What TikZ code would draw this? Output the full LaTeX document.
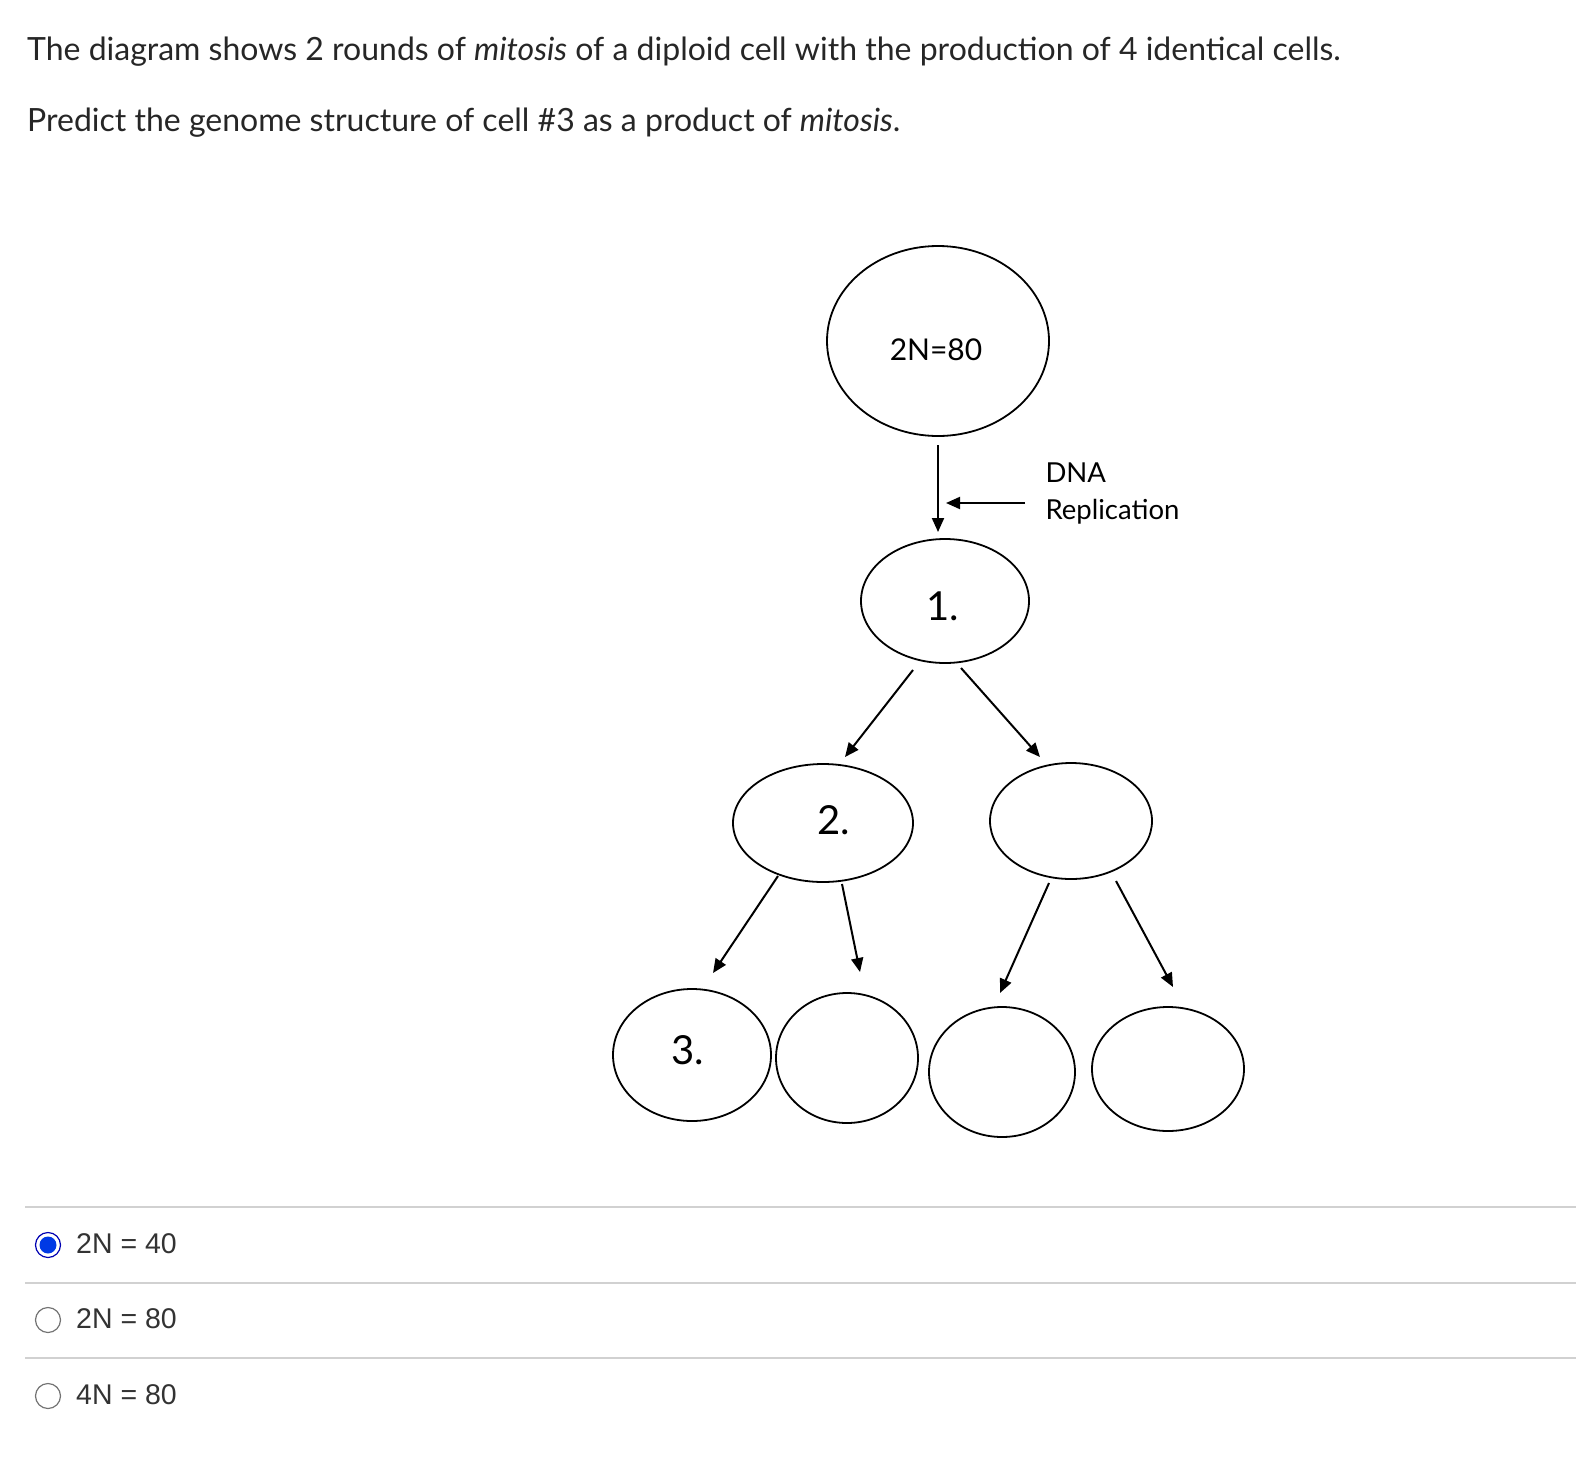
\documentclass[tikz,border=0pt]{standalone}
\usepackage{fontspec}
\setmainfont{Lato}
\newfontfamily\optfont{Liberation Sans}
\usetikzlibrary{arrows.meta}
\begin{document}
\begin{tikzpicture}[x=1pt,y=-1pt,
  cell/.style={draw,line width=1.8pt},
  conn/.style={line width=2pt,-{Triangle[length=14pt,width=12pt]}},
  head/.style={anchor=base west,font=\fontsize{32}{38}\selectfont,text=black!85,inner sep=0},
  opt/.style={anchor=west,font=\optfont\fontsize{28.5}{32}\selectfont,text=black!80,inner sep=0},
  sep/.style={draw=black!18,line width=1.2pt},
  radio/.style={circle,draw=black!55,line width=1.2pt,minimum size=25pt,inner sep=0}]
\useasboundingbox (0,0) rectangle (1576,1456);
\node[head] (t1) at (27,60) {The diagram shows 2 rounds of \textit{mitosis} of a diploid cell with the production of 4 identical cells.};
\node[head] (t2) at (27,131) {Predict the genome structure of cell \#3 as a product of \textit{mitosis}.};
% cells
\draw[cell] (938,341) ellipse [x radius=111,y radius=95];
\node[font=\fontsize{30}{34}\selectfont] (top) at (936,350) {2N=80};
\draw[cell] (945,601) ellipse [x radius=84,y radius=62];
\node[font=\fontsize{40}{44}\selectfont] (c1) at (943,606) {1.};
\draw[cell] (823,823) ellipse [x radius=90,y radius=59];
\node[font=\fontsize{40}{44}\selectfont] (c2) at (834,820) {2.};
\draw[cell] (1071,821) ellipse [x radius=81,y radius=58];
\draw[cell] (692,1055) ellipse [x radius=79,y radius=66];
\node[font=\fontsize{40}{44}\selectfont] (c3) at (688,1050) {3.};
\draw[cell] (847,1058) ellipse [x radius=71,y radius=65];
\draw[cell] (1002,1072) ellipse [x radius=73,y radius=65];
\draw[cell] (1168,1069) ellipse [x radius=76,y radius=62];
% arrows
\coordinate (a0) at (938,445); \coordinate (a1) at (938,532);
\coordinate (h0) at (1025,503); \coordinate (h1) at (946,503);
\draw[conn] (a0) -- (a1);
\draw[conn] (h0) -- (h1);
\node[anchor=west,align=left,font=\fontsize{27.5}{37}\selectfont] (dna) at (1042,493) {DNA\\Replication};
\coordinate (p1) at (913,670); \coordinate (q1) at (845,757);
\coordinate (p2) at (961,668); \coordinate (q2) at (1040,757);
\coordinate (p3) at (778,876); \coordinate (q3) at (713,973);
\coordinate (p4) at (842,884); \coordinate (q4) at (860,972);
\coordinate (p5) at (1049,883); \coordinate (q5) at (1000,993);
\coordinate (p6) at (1116,881); \coordinate (q6) at (1173,987);
\foreach \i in {1,...,6} \draw[conn] (p\i) -- (q\i);
% options
\draw[sep] (25,1207) -- (1576,1207);
\draw[sep] (25,1283) -- (1576,1283);
\draw[sep] (25,1358) -- (1576,1358);
\node[radio,draw=blue!70!black] (r1) at (48,1245) {};
\fill[blue!75!cyan!90!black] (r1) circle (8.5);
\node[radio] (r2) at (48,1320) {};
\node[radio] (r3) at (48,1396) {};
\node[opt] at (76,1244) {2N = 40};
\node[opt] at (76,1319) {2N = 80};
\node[opt] at (76,1395) {4N = 80};
\end{tikzpicture}
\end{document}
